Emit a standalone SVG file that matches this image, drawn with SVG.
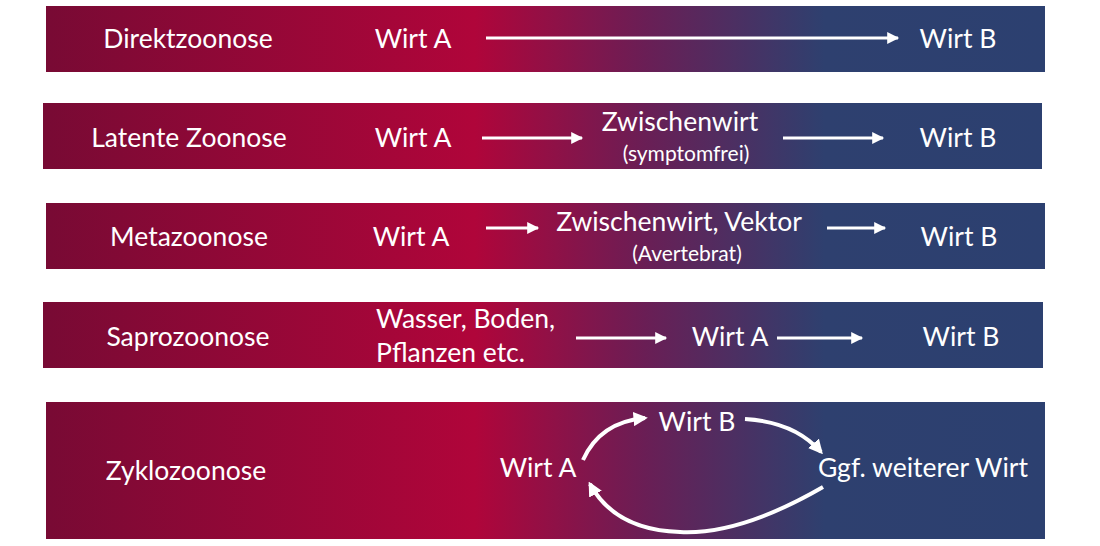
<svg xmlns="http://www.w3.org/2000/svg" width="1100" height="546" viewBox="0 0 1100 546">
  <defs>
    <linearGradient id="bandGrad" gradientUnits="userSpaceOnUse" x1="44" y1="0" x2="1045" y2="0">
      <stop offset="0" stop-color="#780a34"/>
      <stop offset="0.43" stop-color="#b0053a"/>
      <stop offset="0.6" stop-color="#6a1e55"/>
      <stop offset="0.78" stop-color="#2e406f"/>
      <stop offset="1" stop-color="#2c4070"/>
    </linearGradient>
    <marker id="head" viewBox="0 0 10 10" refX="9" refY="5" markerWidth="4.5" markerHeight="4" markerUnits="strokeWidth" orient="auto">
      <path d="M0,0 L10,5 L0,10 Z" fill="#ffffff"/>
    </marker>
    <marker id="headC" viewBox="0 0 10 10" refX="8" refY="5" markerWidth="3.6" markerHeight="3.6" markerUnits="strokeWidth" orient="auto">
      <path d="M0,0 L10,5 L0,10 Z" fill="#ffffff"/>
    </marker>
  </defs>
  <style>
    .band { fill: url(#bandGrad); }
    text { font-family: Lato, "Open Sans", "Liberation Sans", sans-serif; fill: #ffffff; }
    .t { font-size: 26.5px; text-anchor: middle; }
    .tl { font-size: 26.5px; }
    .s { font-size: 21px; text-anchor: middle; }
    .arr { stroke: #ffffff; stroke-width: 3; fill: none; marker-end: url(#head); }
    .carr { stroke: #ffffff; stroke-width: 4; fill: none; marker-end: url(#headC); }
  </style>
  <rect width="1100" height="546" fill="#ffffff"/>

  <g id="row-direkt">
    <rect class="band" x="46" y="6" width="999" height="66"/>
    <text class="t" x="188" y="48">Direktzoonose</text>
    <text class="t" x="413" y="48">Wirt A</text>
    <text class="t" x="958" y="48">Wirt B</text>
  </g>
  <g id="row-latent">
    <rect class="band" x="43" y="103" width="999" height="66"/>
    <text class="t" x="189" y="147">Latente Zoonose</text>
    <text class="t" x="413" y="147">Wirt A</text>
    <text class="t" x="680" y="131">Zwischenwirt</text>
    <text class="s" x="686" y="161">(symptomfrei)</text>
    <text class="t" x="958" y="147">Wirt B</text>
  </g>
  <g id="row-meta">
    <rect class="band" x="46" y="203" width="999" height="66"/>
    <text class="t" x="189" y="246">Metazoonose</text>
    <text class="t" x="411" y="246">Wirt A</text>
    <text class="t" x="679" y="231">Zwischenwirt, Vektor</text>
    <text class="s" x="687" y="261">(Avertebrat)</text>
    <text class="t" x="959" y="246">Wirt B</text>
  </g>
  <g id="row-sapro">
    <rect class="band" x="43" y="302" width="1000" height="66"/>
    <text class="t" x="188" y="346">Saprozoonose</text>
    <text class="tl" x="376" y="328">Wasser, Boden,</text>
    <text class="tl" x="376" y="362">Pflanzen etc.</text>
    <text class="t" x="730" y="346">Wirt A</text>
    <text class="t" x="961" y="346">Wirt B</text>
  </g>
  <g id="row-zyklo">
    <rect class="band" x="46" y="402" width="999" height="137"/>
    <text class="t" x="186" y="480">Zyklozoonose</text>
    <text class="t" x="538" y="477">Wirt A</text>
    <text class="t" x="697" y="431">Wirt B</text>
    <text class="t" x="923" y="477">Ggf. weiterer Wirt</text>
  </g>

  <g id="connectors">
    <line class="arr" x1="486" y1="38" x2="898" y2="38"/>
    <line class="arr" x1="482" y1="138" x2="582" y2="138"/>
    <line class="arr" x1="783" y1="138" x2="883" y2="138"/>
    <line class="arr" x1="486" y1="228" x2="538" y2="228"/>
    <line class="arr" x1="827" y1="228" x2="885" y2="228"/>
    <line class="arr" x1="576" y1="338" x2="666" y2="338"/>
    <line class="arr" x1="777" y1="338" x2="862" y2="338"/>
    <path class="carr" d="M583,460 Q600,422 645,418"/>
    <path class="carr" d="M745,419 Q795,422 821,452"/>
    <path class="carr" d="M823,487 Q740,535 680,532 Q615,530 590,484"/>
  </g>
</svg>
